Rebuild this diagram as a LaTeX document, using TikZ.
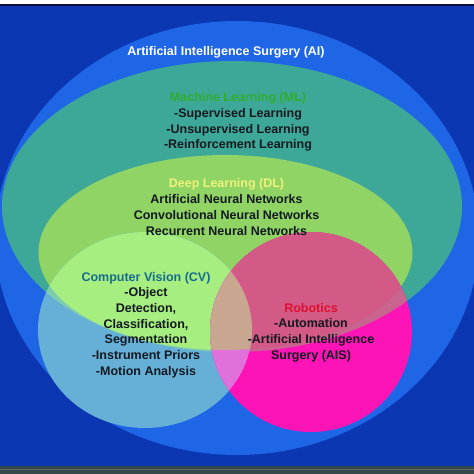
\documentclass[tikz,border=0pt]{standalone}
\usepackage{fontspec}
\setmainfont{Liberation Sans}
\definecolor{deepblue}{HTML}{0C37B2}
\definecolor{aiblue}{HTML}{1E66E6}
\definecolor{mlteal}{HTML}{3EA898}
\definecolor{dlgreen}{HTML}{8FD464}
\definecolor{cvblue}{HTML}{66B0D8}
\definecolor{cvgreen}{HTML}{A6EE80}
\definecolor{cvteal}{HTML}{7CCCB0}
\definecolor{robpink}{HTML}{FC14B6}
\definecolor{robrose}{HTML}{D35A87}
\definecolor{robmauve}{HTML}{C8648E}
\definecolor{lenspink}{HTML}{E070DA}
\definecolor{lenstan}{HTML}{C8A690}
\definecolor{mltitle}{HTML}{2EAE2E}
\definecolor{dltitle}{HTML}{EEF27A}
\definecolor{cvtitle}{HTML}{166C8C}
\definecolor{robtitle}{HTML}{E0102E}
\definecolor{itemtext}{HTML}{141820}
\definecolor{stripgrey}{HTML}{34494A}

\begin{document}
\begin{tikzpicture}[x=1pt,y=-1pt]
    % `blocktext' is used for every text block.
    % The zones are drawn as plain ellipses, overlaps by clipping.
    \tikzstyle{blocktext} = [align=center,inner sep=0pt,text=itemtext,
      font=\fontsize{12.5}{15.7}\selectfont\bfseries]
    \def\aizone{(237,238) ellipse [x radius=242pt,y radius=217pt]}
    \def\mlzone{(232,206.5) ellipse [x radius=230pt,y radius=145.5pt]}
    \def\dlzone{(225.5,252.5) ellipse [x radius=187pt,y radius=97.5pt]}
    \def\cvzone{(145,330) ellipse [x radius=107pt,y radius=98pt]}
    \def\robzone{(311,332) ellipse [x radius=101pt,y radius=100pt]}
    \useasboundingbox (0,0) rectangle (474,474);
    % Background and strips.
    \fill[deepblue] (0,0) rectangle (474,474);
    \fill[white] (0,0) rectangle (474,4);
    \fill[black!70!deepblue] (0,4) rectangle (474,5.5);
    % Nested zones.
    \fill[aiblue] \aizone;
    \fill[mlteal] \mlzone;
    \fill[dlgreen] \dlzone;
    % Computer vision.
    \fill[cvblue] \cvzone;
    \begin{scope}
      \clip \cvzone;
      \fill[cvteal] \mlzone;
      \fill[cvgreen] \dlzone;
    \end{scope}
    % Robotics.
    \fill[robpink] \robzone;
    \begin{scope}
      \clip \robzone;
      \fill[robmauve] \mlzone;
      \fill[robrose] \dlzone;
      \clip \cvzone;
      \fill[lenspink] \cvzone;
      \fill[lenstan] \dlzone;
    \end{scope}
    \fill[stripgrey] (0,466) rectangle (474,474);
    \fill[stripgrey!80!white] (0,469) rectangle (474,470);
    %
    \node[blocktext,text=white] (ai) at (226,52) {Artificial Intelligence Surgery (AI)};
    \node[blocktext] (ml) at (238,122) {\textcolor{mltitle}{Machine Learning (ML)}\\
      -Supervised Learning\\-Unsupervised Learning\\-Reinforcement Learning};
    \node[blocktext] (dl) at (226.5,207) {\textcolor{dltitle}{Deep Learning (DL)}\\
      Artificial Neural Networks\\Convolutional Neural Networks\\Recurrent Neural Networks};
    \node[blocktext] (cv) at (146,325) {\textcolor{cvtitle}{Computer Vision (CV)}\\
      -Object\\Detection,\\Classification,\\Segmentation\\-Instrument Priors\\-Motion Analysis};
    \node[blocktext] (rob) at (311,332.5) {\textcolor{robtitle}{Robotics}\\
      -Automation\\-Artificial Intelligence\\Surgery (AIS)};
\end{tikzpicture}
\end{document}
